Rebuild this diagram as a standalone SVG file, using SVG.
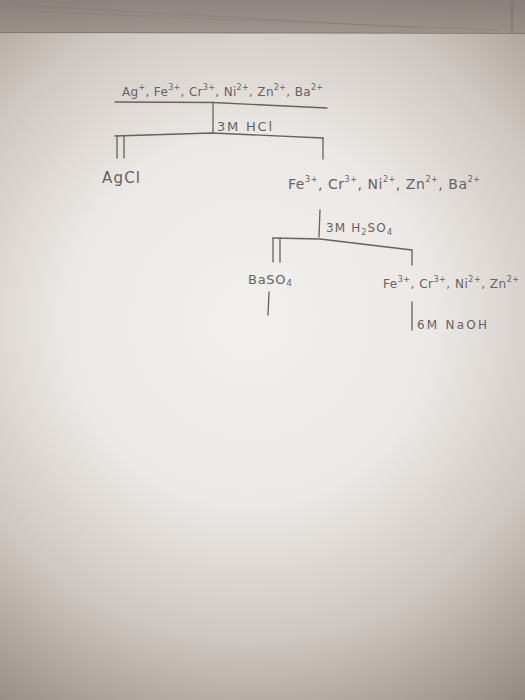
<svg xmlns="http://www.w3.org/2000/svg" width="525" height="700" viewBox="0 0 525 700">
<defs>
<radialGradient id="paper" cx="250" cy="320" r="530" gradientUnits="userSpaceOnUse">
<stop offset="0" stop-color="#f2f0ee"/>
<stop offset="0.35" stop-color="#ebe8e5"/>
<stop offset="0.6" stop-color="#cfc7c1"/>
<stop offset="0.82" stop-color="#a2978f"/>
<stop offset="1" stop-color="#776e68"/>
</radialGradient>
<linearGradient id="top" x1="0" y1="0" x2="0" y2="1">
<stop offset="0" stop-color="#847a75"/>
<stop offset="1" stop-color="#958a84"/>
</linearGradient>
<style>
.ink{font-family:"DejaVu Sans","Liberation Sans",sans-serif;fill:#67625e}
.ln{fill:none;stroke:#67625e;stroke-width:1.3;stroke-linecap:round}
.sup{font-size:8px}
</style>
</defs>
<rect width="525" height="700" fill="url(#paper)"/>
<rect width="525" height="33" fill="url(#top)" opacity="0.85"/>
<line x1="0" y1="32.5" x2="525" y2="33.5" stroke="#77706b" stroke-width="0.8"/>
<line x1="0" y1="4" x2="420" y2="28" stroke="#7a706b" stroke-width="0.5" opacity="0.6"/>
<line x1="40" y1="12" x2="500" y2="30" stroke="#7a706b" stroke-width="0.5" opacity="0.5"/>
<line x1="512" y1="0" x2="512" y2="34" stroke="#6f6762" stroke-width="0.7"/>

<g id="connectors">
<path class="ln" d="M115,102 L213,102.5 L327,108"/>
<path class="ln" d="M213,102.5 L213,133"/>
<path class="ln" d="M115,136 L212,133 L323,138"/>
<path class="ln" d="M117,136 L117,158 M124,136 L124,158"/>
<path class="ln" d="M323,138 L323,159"/>
<path class="ln" d="M320,210 L319,237"/>
<path class="ln" d="M273,238 L320,239 L412,250"/>
<path class="ln" d="M273,238 L273,262 M280,238 L280,262"/>
<path class="ln" d="M412,250 L412,265"/>
<path class="ln" d="M269,292 L268,315"/>
<path class="ln" d="M412,302 L412,330"/>
</g>

<g id="start">
<text class="ink" x="122" y="96" font-size="12" textLength="201" lengthAdjust="spacing">Ag<tspan class="sup" dy="-6">+</tspan><tspan dy="6">, Fe</tspan><tspan class="sup" dy="-6">3+</tspan><tspan dy="6">, Cr</tspan><tspan class="sup" dy="-6">3+</tspan><tspan dy="6">, Ni</tspan><tspan class="sup" dy="-6">2+</tspan><tspan dy="6">, Zn</tspan><tspan class="sup" dy="-6">2+</tspan><tspan dy="6">, Ba</tspan><tspan class="sup" dy="-6">2+</tspan></text>
</g>
<g id="reagent1">
<text class="ink" x="217" y="131" font-size="13" textLength="55" lengthAdjust="spacing">3M HCl</text>
</g>
<g id="agcl">
<text class="ink" x="102" y="183" font-size="15" textLength="38" lengthAdjust="spacing">AgCl</text>
</g>
<g id="filtrate1">
<text class="ink" x="288" y="189" font-size="14" textLength="192" lengthAdjust="spacing">Fe<tspan class="sup" dy="-7">3+</tspan><tspan dy="7">, Cr</tspan><tspan class="sup" dy="-7">3+</tspan><tspan dy="7">, Ni</tspan><tspan class="sup" dy="-7">2+</tspan><tspan dy="7">, Zn</tspan><tspan class="sup" dy="-7">2+</tspan><tspan dy="7">, Ba</tspan><tspan class="sup" dy="-7">2+</tspan></text>
</g>
<g id="reagent2">
<text class="ink" x="326" y="232" font-size="12" textLength="66" lengthAdjust="spacing">3M H<tspan font-size="8" dy="3">2</tspan><tspan dy="-3">SO</tspan><tspan font-size="8" dy="3">4</tspan></text>
</g>
<g id="baso4">
<text class="ink" x="248" y="284" font-size="13" textLength="44" lengthAdjust="spacing">BaSO<tspan font-size="9" dy="2">4</tspan></text>
</g>
<g id="filtrate2">
<text class="ink" x="383" y="288" font-size="12" textLength="136" lengthAdjust="spacing">Fe<tspan class="sup" dy="-6">3+</tspan><tspan dy="6">, Cr</tspan><tspan class="sup" dy="-6">3+</tspan><tspan dy="6">, Ni</tspan><tspan class="sup" dy="-6">2+</tspan><tspan dy="6">, Zn</tspan><tspan class="sup" dy="-6">2+</tspan></text>
</g>
<g id="reagent3">
<text class="ink" x="417" y="329" font-size="12" textLength="70" lengthAdjust="spacing">6M NaOH</text>
</g>
</svg>
